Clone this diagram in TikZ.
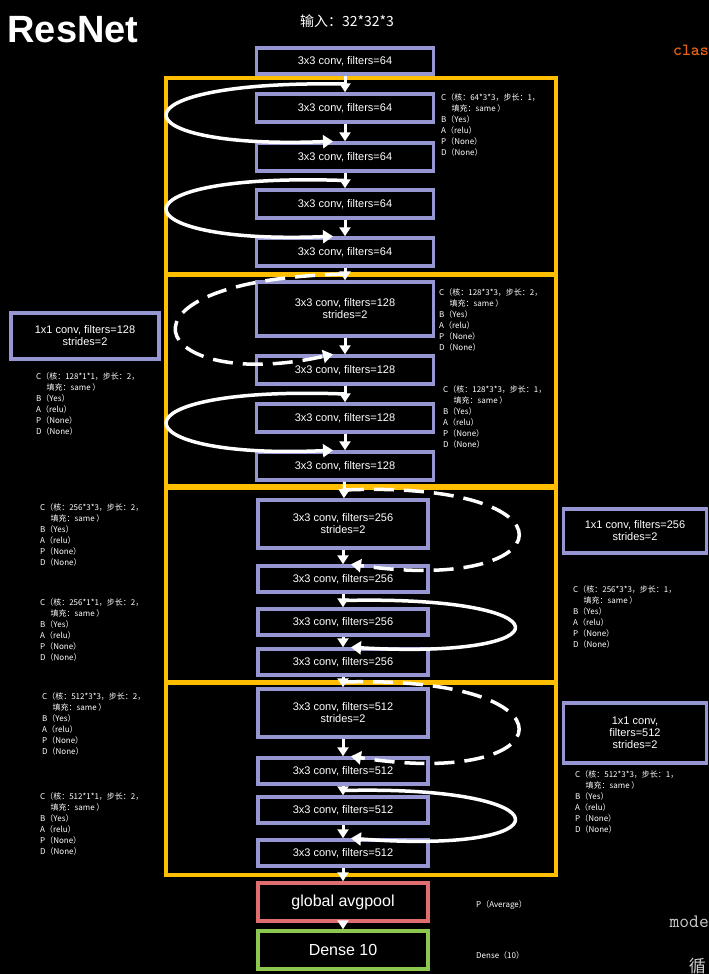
\documentclass[tikz,border=0pt]{standalone}
\usepackage{fontspec}
\setmainfont{Liberation Sans}
\newfontfamily\cjk{Noto Sans CJK SC}
\usetikzlibrary{arrows.meta,calc,positioning}
\definecolor{conv}{RGB}{150,150,210}
\definecolor{stage}{RGB}{255,190,0}
\definecolor{pool}{RGB}{225,110,110}
\definecolor{dense}{RGB}{140,200,80}
\definecolor{code}{RGB}{230,100,20}
\tikzset{
  box/.style={draw=conv,line width=3.5pt,fill=black,text=white,font=\fontsize{11}{12}\selectfont,minimum width=177pt,minimum height=28pt,inner sep=1pt,align=center},
  sbox/.style={box,minimum width=170pt},
  stg/.style={draw=stage,line width=3.5pt},
  arr/.style={draw=white,line width=3pt,-{Triangle[length=9pt,width=11pt]}},
  lp/.style={draw=white,line width=3.5pt,-{Triangle[length=10pt,width=13pt]}},
  dlp/.style={lp,dash pattern=on 20pt off 10pt},
  note/.style={text=white,font=\cjk\fontsize{8}{11}\selectfont,align=left,anchor=north west,inner sep=0pt}
}
\newcommand\cbapd[2]{C（#1，\\\hspace{1.3em}填充：same ）\\B（Yes）\\A（relu）\\P（None）\\D（None）}
\begin{document}
\begin{tikzpicture}[x=1pt,y=-1pt]
\fill[black] (0,0) rectangle (709,974);
\useasboundingbox (0,0) rectangle (709,974);
% titles
\node[text=white,font=\bfseries\fontsize{38}{38}\selectfont,anchor=west] (title) at (4,30) {ResNet};
\node[text=white,font=\cjk\fontsize{14}{14}\selectfont] (inp) at (347,21) {输入：32*32*3};
\node[text=code,font=\ttfamily\bfseries\fontsize{17}{17}\selectfont,anchor=east,inner sep=0pt] (cls) at (709,50) {clas};
\node[text=white!80!black,font=\ttfamily\fontsize{19}{19}\selectfont,anchor=east,inner sep=0pt] (mdl) at (709,922) {mode};
\node[text=white!80!black,font=\cjk\fontsize{17}{17}\selectfont,anchor=east,inner sep=0pt] (xun) at (706,966) {循};
% stages
\draw[stg] (166,78) rectangle (556,274);
\draw[stg] (166,275) rectangle (556,486);
\draw[stg] (166,488) rectangle (556,682);
\draw[stg] (166,683) rectangle (556,875);
% main path
\node[box,minimum height=26pt] (b0) at (345,61) {3x3 conv, filters=64};
\node[box] (b1) at (345,108) {3x3 conv, filters=64};
\node[box] (b2) at (345,157) {3x3 conv, filters=64};
\node[box] (b3) at (345,204) {3x3 conv, filters=64};
\node[box] (b4) at (345,252) {3x3 conv, filters=64};
\node[box,minimum height=54pt] (c1) at (345,309) {3x3 conv, filters=128\\strides=2};
\node[box] (c2) at (345,370) {3x3 conv, filters=128};
\node[box] (c3) at (345,418) {3x3 conv, filters=128};
\node[box] (c4) at (345,466) {3x3 conv, filters=128};
\node[sbox,minimum height=48pt] (d1) at (343,524) {3x3 conv, filters=256\\strides=2};
\node[sbox,minimum height=26pt] (d2) at (343,579) {3x3 conv, filters=256};
\node[sbox,minimum height=26pt] (d3) at (343,622) {3x3 conv, filters=256};
\node[sbox,minimum height=26pt] (d4) at (343,662) {3x3 conv, filters=256};
\node[sbox,minimum height=48pt] (e1) at (343,713) {3x3 conv, filters=512\\strides=2};
\node[sbox,minimum height=26pt] (e2) at (343,771) {3x3 conv, filters=512};
\node[sbox,minimum height=26pt] (e3) at (343,810) {3x3 conv, filters=512};
\node[sbox,minimum height=26pt] (e4) at (343,853) {3x3 conv, filters=512};
\node[sbox,draw=pool,minimum height=38pt,font=\fontsize{16}{16}\selectfont] (gap) at (343,902) {global avgpool};
\node[sbox,draw=dense,minimum height=38pt,font=\fontsize{16}{16}\selectfont] (fc) at (343,950) {Dense 10};
% side shortcuts
\node[box,minimum width=148pt,minimum height=46pt] (s1) at (85,336) {1x1 conv, filters=128\\strides=2};
\node[box,minimum width=143pt,minimum height=44pt] (s2) at (635,531) {1x1 conv, filters=256\\strides=2};
\node[box,minimum width=143pt,minimum height=60pt] (s3) at (635,733) {1x1 conv,\\filters=512\\strides=2};
% straight arrows
\foreach \a/\b in {b0/b1,b1/b2,b2/b3,b3/b4,b4/c1,c1/c2,c2/c3,c3/c4,c4/d1,d1/d2,d2/d3,d3/d4,d4/e1,e1/e2,e2/e3,e3/e4,e4/gap,gap/fc}
  \draw[arr] (\a) -- (\b);
% shortcut loops
\draw[lp] ($(b0.south)!.5!(b1.north)$) .. controls (105,80) and (115,150) .. ([xshift=-12pt]b2.north);
\draw[lp] ($(b2.south)!.5!(b3.north)$) .. controls (105,172) and (115,245) .. ([xshift=-12pt]b4.north);
\draw[dlp] ($(b4.south)!.5!(c1.north)$) .. controls (95,280) and (150,395) .. ([xshift=-12pt]c2.north);
\draw[lp] ($(c2.south)!.5!(c3.north)$) .. controls (105,385) and (115,460) .. ([xshift=-12pt]c4.north);
\draw[dlp] ($(c4.south)!.5!(d1.north)$) .. controls (585,480) and (565,595) .. ([xshift=8pt]d2.north);
\draw[lp] ($(d2.south)!.5!(d3.north)$) .. controls (570,595) and (570,660) .. ([xshift=8pt]d4.north);
\draw[dlp] ($(d4.south)!.5!(e1.north)$) .. controls (585,675) and (565,790) .. ([xshift=8pt]e2.north);
\draw[lp] ($(e2.south)!.5!(e3.north)$) .. controls (570,785) and (570,855) .. ([xshift=8pt]e4.north);
% notes
\node[note] (n1) at (441,93) {\cbapd{核：64*3*3，步长：1}{}};
\node[note] (n2) at (439,288) {\cbapd{核：128*3*3，步长：2}{}};
\node[note] (n3) at (36,372) {\cbapd{核：128*1*1，步长：2}{}};
\node[note] (n4) at (443,385) {\cbapd{核：128*3*3，步长：1}{}};
\node[note] (n5) at (40,503) {\cbapd{核：256*3*3，步长：2}{}};
\node[note] (n6) at (40,598) {\cbapd{核：256*1*1，步长：2}{}};
\node[note] (n7) at (573,585) {\cbapd{核：256*3*3，步长：1}{}};
\node[note] (n8) at (42,692) {\cbapd{核：512*3*3，步长：2}{}};
\node[note] (n9) at (40,792) {\cbapd{核：512*1*1，步长：2}{}};
\node[note] (n10) at (575,770) {\cbapd{核：512*3*3，步长：1}{}};
\node[note,anchor=west] (np) at (476,905) {P（Average）};
\node[note,anchor=west] (nd) at (476,955) {Dense（10）};
\end{tikzpicture}
\end{document}
